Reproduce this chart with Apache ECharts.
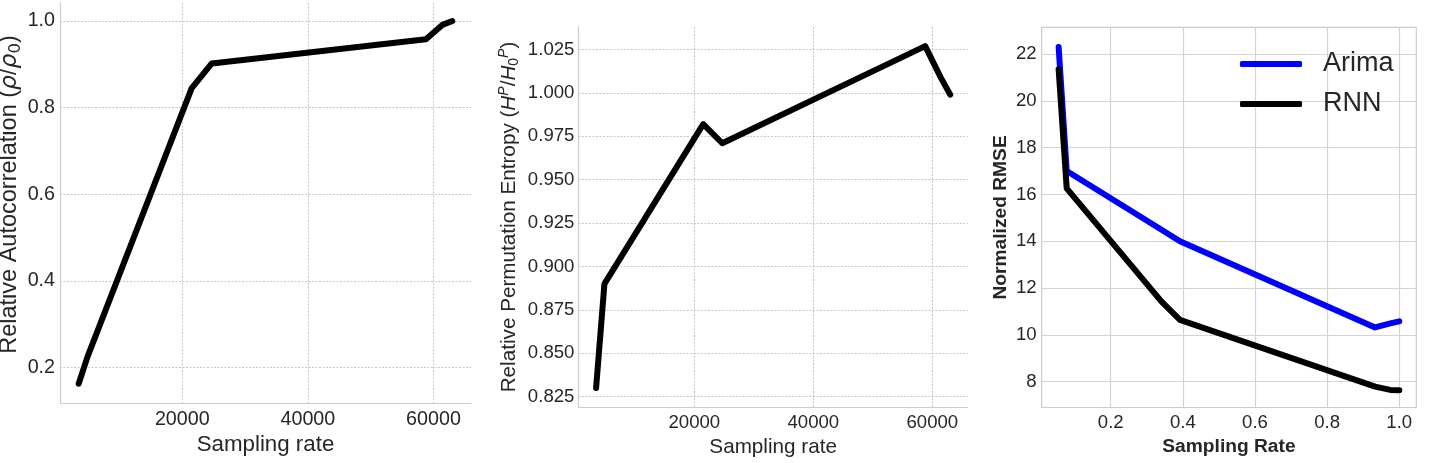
<!DOCTYPE html>
<html>
<head>
<meta charset="utf-8">
<script src="https://cdn.jsdelivr.net/npm/echarts@6/dist/echarts.min.js"></script>
<style>
html,body{margin:0;padding:0;background:#fff;}
#c{width:1429px;height:463px;}
</style>
</head>
<body>
<div id="c"></div>
<script>
// ---- data ----
var rateX = [3500, 4900, 21500, 24700, 58800, 61400, 63000];
var autocorr = [0.163, 0.225, 0.845, 0.902, 0.958, 0.991, 1.000];
var permEntropy = [0.830, 0.890, 0.982, 0.971, 1.027, 1.009, 0.999];
var fracX = [0.0556, 0.078, 0.341, 0.392, 0.933, 0.975, 1.0];
var arima = [22.3, 17.0, 14.49, 14.0, 10.32, 10.49, 10.58];
var rnn = [21.35, 16.26, 11.42, 10.64, 7.79, 7.65, 7.64];
var rateTicks = [20000, 40000, 60000];
var autoTicks = [0.2, 0.4, 0.6, 0.8, 1.0];
var entropyTicks = [0.825, 0.850, 0.875, 0.900, 0.925, 0.950, 0.975, 1.000, 1.025];
var fracTicks = [0.2, 0.4, 0.6, 0.8, 1.0];
var rmseTicks = [8, 10, 12, 14, 16, 18, 20, 22];

function pairs(xs, ys) { return xs.map(function (x, i) { return [x, ys[i]]; }); }

var FONT = "'Liberation Sans', Arial, sans-serif";
var MATH = "'DejaVu Sans', sans-serif";
var TXT = '#262626';
var dotted = { show: true, lineStyle: { color: '#b8b8b8', width: 0.8, type: [2, 1.5] } };
var spine = { show: true, lineStyle: { color: '#cccccc', width: 1.2 } };
function tickLbl(size) { return { fontFamily: FONT, fontSize: size, color: TXT }; }

var chart = echarts.init(document.getElementById('c'), null, { renderer: 'canvas' });
var lineW = 6;
function lineSeries(name, xi, yi, data, color) {
  return {
    name: name, type: 'line', xAxisIndex: xi, yAxisIndex: yi, data: data,
    showSymbol: false, symbol: 'none', animation: false,
    lineStyle: { color: color, width: lineW, cap: 'round', join: 'round' },
    itemStyle: { color: color }
  };
}

var option = {
  animation: false,
  backgroundColor: '#ffffff',
  grid: [
    { left: 60, top: 2.8, width: 411, height: 400.4, containLabel: false, outerBoundsMode: 'none' },
    { left: 578.4, top: 27, width: 389.5, height: 380, containLabel: false, outerBoundsMode: 'none' },
    { left: 1041.6, top: 27.3, width: 374.7, height: 380.2, containLabel: false, outerBoundsMode: 'none', show: true, borderColor: '#cccccc', borderWidth: 1.2, backgroundColor: 'transparent' }
  ],
  legend: {
    left: 1235, top: 44, orient: 'vertical',
    itemWidth: 62, itemHeight: 6, itemGap: 10,
    icon: 'roundRect',
    textStyle: { fontFamily: FONT, fontSize: 27, color: TXT, lineHeight: 30, padding: [0, 0, 0, 16] },
    data: [{ name: 'Arima', icon: 'roundRect' }, { name: 'RNN', icon: 'roundRect' }]
  },
  xAxis: [
    {
      gridIndex: 0, type: 'value', min: 525, max: 65975,
      name: 'Sampling rate', nameLocation: 'middle', nameGap: 24,
      nameTextStyle: { fontFamily: FONT, fontSize: 22.3, color: TXT },
      axisLine: spine, axisTick: { show: false, customValues: rateTicks },
      axisLabel: Object.assign({ customValues: rateTicks, margin: 6, formatter: function (v) { return String(v); } }, tickLbl(19.7)),
      splitLine: dotted
    },
    {
      gridIndex: 1, type: 'value', min: 525, max: 65975,
      name: 'Sampling rate', nameLocation: 'middle', nameGap: 25,
      nameTextStyle: { fontFamily: FONT, fontSize: 20.7, color: TXT },
      axisLine: spine, axisTick: { show: false, customValues: rateTicks },
      axisLabel: Object.assign({ customValues: rateTicks, margin: 6, formatter: function (v) { return String(v); } }, tickLbl(18.6)),
      splitLine: dotted
    },
    {
      gridIndex: 2, type: 'value', min: 0.0084, max: 1.0472,
      name: 'Sampling Rate', nameLocation: 'middle', nameGap: 25,
      nameTextStyle: { fontFamily: FONT, fontSize: 19.2, fontWeight: 'bold', color: TXT },
      axisLine: { show: false }, axisTick: { show: false, customValues: fracTicks },
      axisLabel: Object.assign({ customValues: fracTicks, margin: 6, formatter: function (v) { return v.toFixed(1); } }, tickLbl(18.6)),
      splitLine: { show: true, lineStyle: { color: '#d4d4d4', width: 1.2 } }
    }
  ],
  yAxis: [
    {
      gridIndex: 0, type: 'value', min: 0.118, max: 1.042,
      name: 'Relative Autocorrelation ({i|ρ}/{i|ρ}{sub|0})', nameLocation: 'middle', nameGap: 32, nameRotate: 90,
      nameTextStyle: {
        fontFamily: FONT, fontSize: 23.5, color: TXT, padding: [0, 0, 0, 17],
        rich: {
          i: { fontFamily: MATH, fontSize: 23.5, fontStyle: 'italic', color: TXT },
          sub: { fontFamily: MATH, fontSize: 16.5, color: TXT, verticalAlign: 'bottom', lineHeight: 28 }
        }
      },
      axisLine: spine, axisTick: { show: false, customValues: autoTicks },
      axisLabel: Object.assign({ customValues: autoTicks, margin: 5, formatter: function (v) { return v.toFixed(1); } }, tickLbl(19.7)),
      splitLine: dotted
    },
    {
      gridIndex: 1, type: 'value', min: 0.819, max: 1.038,
      name: 'Relative Permutation Entropy ({i|H}{sup|P}/{i|H}{sub|0}{sup|P})', nameLocation: 'middle', nameGap: 57, nameRotate: 90,
      nameTextStyle: {
        fontFamily: FONT, fontSize: 20.7, color: TXT,
        rich: {
          i: { fontFamily: FONT, fontSize: 20.7, fontStyle: 'italic', color: TXT },
          sup: { fontFamily: FONT, fontSize: 14, fontStyle: 'italic', color: TXT, verticalAlign: 'top', lineHeight: 24 },
          sub: { fontFamily: FONT, fontSize: 14, color: TXT, verticalAlign: 'bottom', lineHeight: 24 }
        }
      },
      axisLine: spine, axisTick: { show: false, customValues: entropyTicks },
      axisLabel: Object.assign({ customValues: entropyTicks, margin: 4, formatter: function (v) { return v.toFixed(3); } }, tickLbl(18.6)),
      splitLine: dotted
    },
    {
      gridIndex: 2, type: 'value', min: 6.9, max: 23.14,
      name: 'Normalized RMSE', nameLocation: 'middle', nameGap: 31, nameRotate: 90,
      nameTextStyle: { fontFamily: FONT, fontSize: 19.2, fontWeight: 'bold', color: TXT },
      axisLine: { show: false }, axisTick: { show: false, customValues: rmseTicks },
      axisLabel: Object.assign({ customValues: rmseTicks, margin: 5, formatter: function (v) { return String(v); } }, tickLbl(18.6)),
      splitLine: { show: true, lineStyle: { color: '#d4d4d4', width: 1.2 } }
    }
  ],
  series: [
    lineSeries('autocorr', 0, 0, pairs(rateX, autocorr), '#000000'),
    lineSeries('entropy', 1, 1, pairs(rateX, permEntropy), '#000000'),
    lineSeries('Arima', 2, 2, pairs(fracX, arima), '#0000ff'),
    lineSeries('RNN', 2, 2, pairs(fracX, rnn), '#000000')
  ]
};
chart.setOption(option);
</script>
</body>
</html>
